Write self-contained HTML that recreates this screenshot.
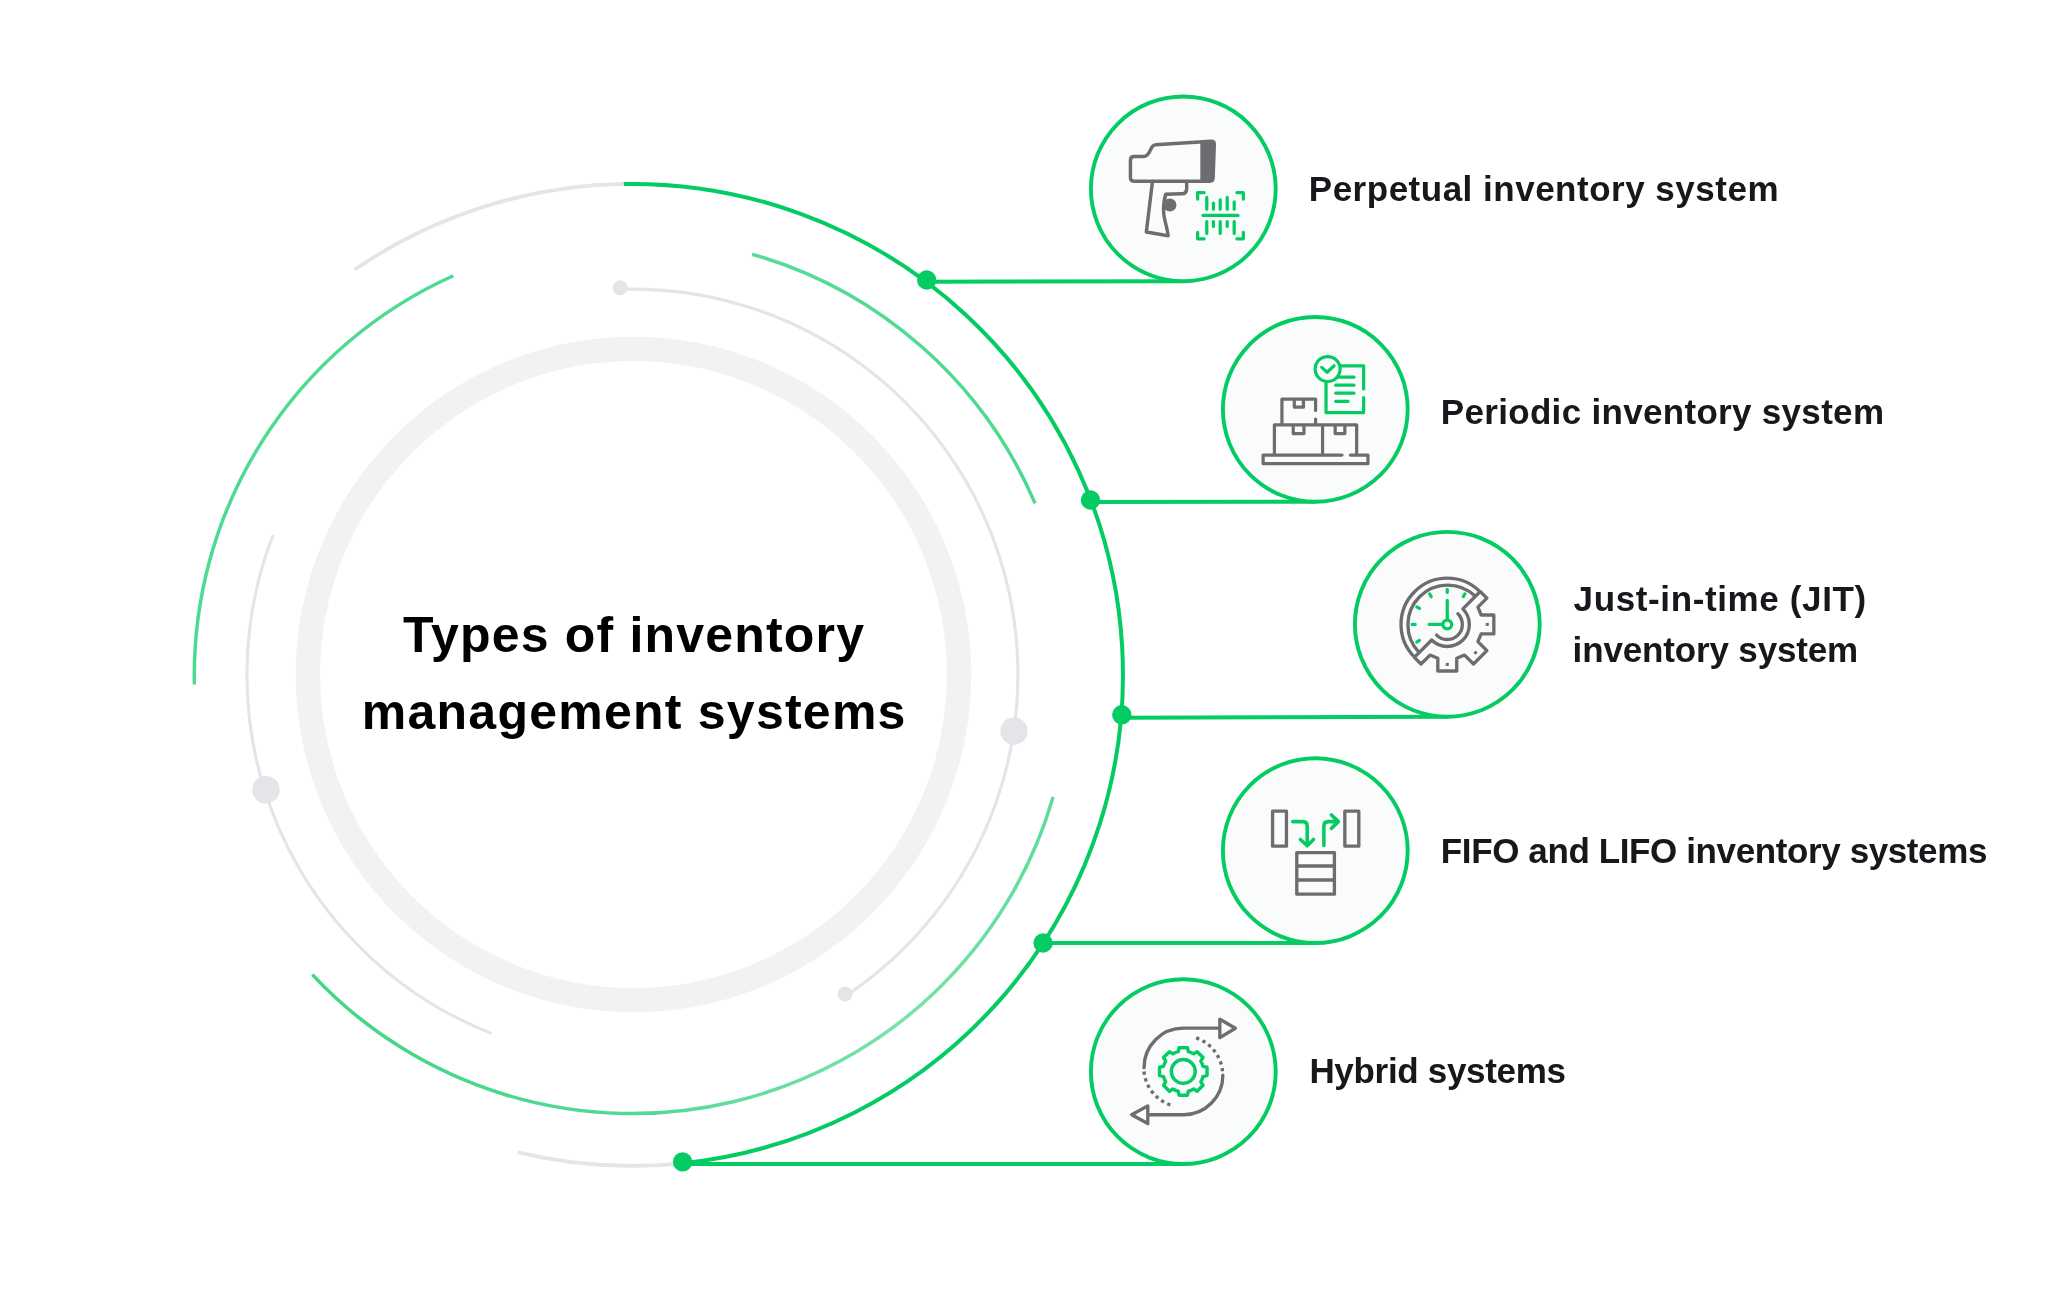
<!DOCTYPE html>
<html><head><meta charset="utf-8"><title>Types of inventory management systems</title>
<style>html,body{margin:0;padding:0;background:#fff;}body{width:2048px;height:1302px;overflow:hidden;}svg{display:block;will-change:transform;}text{font-family:"Liberation Sans",sans-serif;font-weight:bold;}</style></head><body>
<svg width="2048" height="1302" viewBox="0 0 2048 1302">
<rect width="2048" height="1302" fill="#fff"/>
<circle cx="633.5" cy="674.5" r="325.6" fill="none" stroke="#f2f2f5" stroke-width="24.4"/>
<g fill="none" stroke="#e4e4e9" stroke-width="3.1">
<path d="M620.25,289.29 A385.5,385.5 0 0 1 846.02,995.53"/>
<path d="M491.45,1033.39 A385.5,385.5 0 0 1 273.10,535.04"/>
</g>
<circle cx="620.2" cy="287.7" r="7.5" fill="#e4e4e9"/>
<circle cx="1014" cy="731" r="13.7" fill="#e4e4e9"/>
<circle cx="266" cy="789.7" r="13.7" fill="#e4e4e9"/>
<circle cx="845" cy="994" r="7.5" fill="#e4e4e9"/>
<defs><linearGradient id="gb" gradientUnits="userSpaceOnUse" x1="312" y1="0" x2="1053" y2="0"><stop offset="0" stop-color="#41d687"/><stop offset="0.45" stop-color="#52da92"/><stop offset="0.8" stop-color="#7ae3ab"/><stop offset="1" stop-color="#5cdc98"/></linearGradient><linearGradient id="gt" gradientUnits="userSpaceOnUse" x1="752" y1="254" x2="1036" y2="503"><stop offset="0" stop-color="#56dc96"/><stop offset="1" stop-color="#4ad98f"/></linearGradient></defs>
<g fill="none" stroke-width="3.5">
<path stroke="#4dda91" d="M194.39,684.49 A438,438 0 0 1 453.33,275.73"/>
<path stroke="url(#gt)" d="M752.11,254.21 A438,438 0 0 1 1035.07,503.40"/>
<path stroke="url(#gb)" d="M1053.10,797.03 A438,438 0 0 1 312.37,974.65"/>
</g>
<g fill="none" stroke="#e4e4e9" stroke-width="3.8">
<path d="M354.77,269.66 A491,491 0 0 1 623.80,183.97"/>
<path d="M682.63,1163.28 A491,491 0 0 1 517.89,1152.46"/>
</g>
<path d="M623.80,183.97 A491,491 0 0 1 682.63,1163.28" fill="none" stroke="#04cb62" stroke-width="4"/>
<path d="M926.7,281.7 L1183.3,281.25" stroke="#04cb62" stroke-width="3.9" fill="none"/>
<circle cx="1183.3" cy="188.85" r="92.4" fill="#fafcfb" stroke="#04cb62" stroke-width="3.9"/>
<circle cx="926.7" cy="280.0" r="9.7" fill="#04cb62"/>
<path d="M1090.5,502.0 L1315.3,501.75" stroke="#04cb62" stroke-width="3.9" fill="none"/>
<circle cx="1315.3" cy="409.35" r="92.4" fill="#fafcfb" stroke="#04cb62" stroke-width="3.9"/>
<circle cx="1090.5" cy="500.0" r="9.7" fill="#04cb62"/>
<path d="M1121.8,717.7 L1447.3,716.70" stroke="#04cb62" stroke-width="3.9" fill="none"/>
<circle cx="1447.3" cy="624.3" r="92.4" fill="#fafcfb" stroke="#04cb62" stroke-width="3.9"/>
<circle cx="1121.8" cy="714.8" r="9.7" fill="#04cb62"/>
<path d="M1043.05,943.0 L1315.3,943.05" stroke="#04cb62" stroke-width="3.9" fill="none"/>
<circle cx="1315.3" cy="850.65" r="92.4" fill="#fafcfb" stroke="#04cb62" stroke-width="3.9"/>
<circle cx="1043.05" cy="943.0" r="9.7" fill="#04cb62"/>
<path d="M682.6,1164.0 L1183.3,1164.05" stroke="#04cb62" stroke-width="3.9" fill="none"/>
<circle cx="1183.3" cy="1071.65" r="92.4" fill="#fafcfb" stroke="#04cb62" stroke-width="3.9"/>
<circle cx="682.6" cy="1161.9" r="9.7" fill="#04cb62"/>
<g transform="translate(1110,120) scale(0.107527)" fill="none" stroke-linecap="round" stroke-linejoin="round">
<circle cx="557" cy="790" r="61" fill="#6c6c71"/>
<path d="M395,572 L338,1042 L541,1076 C531,990 503,930 499,860 Q494,770 518,690 L664,686 Q713,686 713,636 L713,572" fill="#fafcfb" stroke="#6c6c71" stroke-width="32"/>
<path d="M840,204 L940,197 Q971,195 970,226 L959,540 Q958,570 928,570 L840,570 Z" fill="#6c6c71"/>
<path d="M420,231 L940,197 Q971,195 970,226 L959,540 Q958,570 928,570 L225,570 Q190,570 190,535 L190,375 Q190,340 225,340 L305,340 C338,340 352,326 365,300 L384,262 C392,246 400,233 420,231 Z" stroke="#6c6c71" stroke-width="32"/>
<path d="M815,735 L815,675 L875,675 M1180,675 L1240,675 L1240,735 M815,1045 L815,1105 L875,1105 M1180,1105 L1240,1105 L1240,1045 M865,888 L1190,888 M900,720 V830 M962,772 V830 M1025,742 V830 M1090,720 V830 M1155,762 V830 M900,945 V1055 M962,945 V990 M1025,945 V1055 M1090,945 V990 M1155,945 V1055" stroke="#04cb62" stroke-width="30"/>
</g>
<g transform="translate(1240,340) scale(0.107527)" fill="none" stroke-linecap="round" stroke-linejoin="round">
<path d="M948,1070 L215,1070 L215,1150 L1190,1150 L1190,1070 L1027,1070 M320,1070 L320,790 L768,790 L768,1070 M768,790 L1085,790 L1085,1070 M390,790 L390,550 L703,550 L703,655 M703,735 L703,790 M505,550 L505,625 L590,625 L590,550 M495,790 L495,870 L595,870 L595,790 M885,790 L885,870 L975,870 L975,790" stroke="#6c6c71" stroke-width="30"/>
<path d="M1150,455 L1150,240 L800,240 L800,675 L1150,675 L1150,535 M890,345 H1060 M890,420 H1060 M890,495 H1060 M890,570 H1005" stroke="#04cb62" stroke-width="30"/>
<circle cx="815" cy="270" r="116" fill="#fafcfb" stroke="#04cb62" stroke-width="30"/>
<path d="M760,255 L810,300 L875,240" stroke="#04cb62" stroke-width="30"/>
</g>
<g transform="translate(1372,554) scale(0.107527)" fill="none" stroke-linecap="round" stroke-linejoin="round">
<path d="M395.9,959.1 A430,430 0 0 1 1004.1,350.9 M438.4,916.6 A370,370 0 0 1 961.6,393.4 M845.0,510.0 A205,205 0 0 1 555.0,800.0 M799.0,556.0 A140,140 0 0 1 601.0,754.0 M845.0,510.0 L1006.2,348.8 M555.0,800.0 L393.8,961.2 M1006.2,348.8 L1068.4,411.0 L985.0,494.5 L1015.0,567.0 L1133.0,567.0 L1133.0,743.0 L1015.0,743.0 L985.0,815.5 L1068.4,899.0 L944.0,1023.4 L860.5,940.0 L788.0,970.0 L788.0,1088.0 L612.0,1088.0 L612.0,970.0 L539.5,940.0 L456.0,1023.4 L393.8,961.2" stroke="#6c6c71" stroke-width="31"/>
<rect x="1058.0" y="641.0" width="28" height="28" fill="#6c6c71" transform="rotate(0 1072.0 655.0)"/>
<rect x="949.0" y="904.0" width="28" height="28" fill="#6c6c71" transform="rotate(45 963.0 918.0)"/>
<rect x="686.0" y="1013.0" width="28" height="28" fill="#6c6c71" transform="rotate(90 700.0 1027.0)"/>
<path d="M700,432 V605 M532,655 H650 M700.0,357.0 L700.0,328.0 M849.0,396.9 L863.5,371.8 M551.0,396.9 L536.5,371.8 M441.9,506.0 L416.8,491.5 M402.0,655.0 L373.0,655.0 M441.9,804.0 L416.8,818.5" stroke="#04cb62" stroke-width="30"/>
<circle cx="700" cy="655" r="41" stroke="#04cb62" stroke-width="30"/>
</g>
<g transform="translate(1240,780) scale(0.107527)" fill="none" stroke-linecap="round" stroke-linejoin="round">
<path d="M303,290 H432 V615 H303 Z M975,290 H1105 V615 H975 Z M528,675 H878 V1062 H528 Z M528,800 H878 M528,930 H878" stroke="#6c6c71" stroke-width="31"/>
<path d="M490,387 L585,387 Q625,387 625,427 L625,610 M562,553 L625,612 L684,553 M780,610 L780,430 Q780,387 823,387 L915,387 M850,325 L915,387 L850,450" stroke="#04cb62" stroke-width="33"/>
</g>
<g transform="translate(1108,1001) scale(0.107527)" fill="none" stroke-linecap="round" stroke-linejoin="round">
<path d="M335,620 A365,367 0 0 1 700,253 H1040 M1040,170 L1185,253 L1040,340 Z M1068,690 A365,367 0 0 1 700,1058 H370 M370,975 L220,1058 L370,1140 Z" stroke="#6c6c71" stroke-width="31"/>
<rect x="321.1" y="655.6" width="31" height="31" fill="#6c6c71" transform="rotate(262.0 336.6 671.1)"/>
<rect x="335.6" y="718.4" width="31" height="31" fill="#6c6c71" transform="rotate(251.9 351.1 733.9)"/>
<rect x="361.0" y="777.7" width="31" height="31" fill="#6c6c71" transform="rotate(241.8 376.5 793.2)"/>
<rect x="396.3" y="831.7" width="31" height="31" fill="#6c6c71" transform="rotate(231.8 411.8 847.2)"/>
<rect x="440.5" y="878.7" width="31" height="31" fill="#6c6c71" transform="rotate(221.7 456.0 894.2)"/>
<rect x="492.3" y="917.1" width="31" height="31" fill="#6c6c71" transform="rotate(211.6 507.8 932.6)"/>
<rect x="550.0" y="946.0" width="31" height="31" fill="#6c6c71" transform="rotate(201.5 565.5 961.5)"/>
<rect x="1047.9" y="623.4" width="31" height="31" fill="#6c6c71" transform="rotate(82.0 1063.4 638.9)"/>
<rect x="1033.4" y="560.6" width="31" height="31" fill="#6c6c71" transform="rotate(71.9 1048.9 576.1)"/>
<rect x="1008.0" y="501.3" width="31" height="31" fill="#6c6c71" transform="rotate(61.8 1023.5 516.8)"/>
<rect x="972.7" y="447.3" width="31" height="31" fill="#6c6c71" transform="rotate(51.8 988.2 462.8)"/>
<rect x="928.5" y="400.3" width="31" height="31" fill="#6c6c71" transform="rotate(41.7 944.0 415.8)"/>
<rect x="876.7" y="361.9" width="31" height="31" fill="#6c6c71" transform="rotate(31.6 892.2 377.4)"/>
<rect x="819.0" y="333.0" width="31" height="31" fill="#6c6c71" transform="rotate(21.5 834.5 348.5)"/>
<path d="M884.0,608.0 L921.0,616.0 L921.0,694.0 L884.0,702.0 A189.9,189.9 0 0 1 863.3,751.9 L883.8,783.7 L828.7,838.8 L796.9,818.3 A189.9,189.9 0 0 1 747.0,839.0 L739.0,876.0 L661.0,876.0 L653.0,839.0 A189.9,189.9 0 0 1 603.1,818.3 L571.3,838.8 L516.2,783.7 L536.7,751.9 A189.9,189.9 0 0 1 516.0,702.0 L479.0,694.0 L479.0,616.0 L516.0,608.0 A189.9,189.9 0 0 1 536.7,558.1 L516.2,526.3 L571.3,471.2 L603.1,491.7 A189.9,189.9 0 0 1 653.0,471.0 L661.0,434.0 L739.0,434.0 L747.0,471.0 A189.9,189.9 0 0 1 796.9,491.7 L828.7,471.2 L883.8,526.3 L863.3,558.1 A189.9,189.9 0 0 1 884.0,608.0 Z" stroke="#04cb62" stroke-width="32"/>
<circle cx="700" cy="655" r="111" stroke="#04cb62" stroke-width="32"/>
</g>
<g style="filter:opacity(1)">
<text x="1308.8" y="201.0" font-size="35" fill="#17171c" textLength="469.7" lengthAdjust="spacing">Perpetual inventory system</text>
<text x="1440.8" y="423.7" font-size="35" fill="#17171c" textLength="443.2" lengthAdjust="spacing">Periodic inventory system</text>
<text x="1573.6" y="610.7" font-size="35" fill="#17171c" textLength="292.6" lengthAdjust="spacing">Just-in-time (JIT)</text>
<text x="1572.6" y="662.0" font-size="35" fill="#17171c" textLength="285.6" lengthAdjust="spacing">inventory system</text>
<text x="1440.8" y="862.7" font-size="35" fill="#17171c" textLength="546.6" lengthAdjust="spacing">FIFO and LIFO inventory systems</text>
<text x="1309.4" y="1083.0" font-size="35" fill="#17171c" textLength="256.6" lengthAdjust="spacing">Hybrid systems</text>
<text x="403.0" y="652.0" font-size="50" fill="#000" textLength="461.0" lengthAdjust="spacing">Types of inventory</text>
<text x="361.8" y="729.2" font-size="50" fill="#000" textLength="543.6" lengthAdjust="spacing">management systems</text>
</g>
</svg></body></html>
